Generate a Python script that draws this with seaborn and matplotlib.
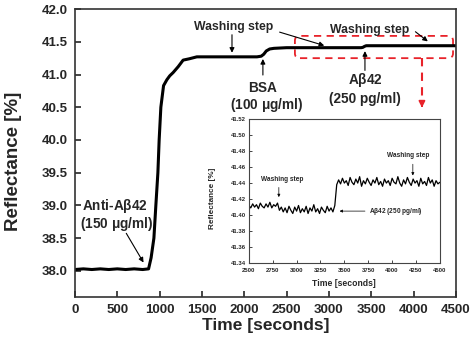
import numpy as np
import matplotlib
matplotlib.use("Agg")
import matplotlib.pyplot as plt
import seaborn as sns
from matplotlib.patches import FancyBboxPatch
from matplotlib.ticker import FormatStrFormatter

# ---- main trace (time [s], reflectance [%]) ----
main_time = [0, 100, 200, 300, 400, 500, 600, 700, 800, 870, 900, 933, 956, 980,
             995, 1015, 1047, 1086, 1120, 1160, 1220, 1278, 1350, 1440, 1600,
             1800, 2000, 2150, 2200, 2230, 2260, 2300, 2350, 2500, 2800, 3000,
             3200, 3380, 3400, 3420, 3440, 3600, 3800, 4000, 4200, 4500]
main_refl = [38.02, 38.03, 38.02, 38.03, 38.02, 38.03, 38.02, 38.03, 38.02, 38.03,
             38.20, 38.50, 39.00, 39.50, 40.00, 40.50, 40.83, 40.92, 40.98, 41.03,
             41.12, 41.22, 41.24, 41.27, 41.27, 41.27, 41.27, 41.27, 41.28, 41.31,
             41.36, 41.39, 41.40, 41.41, 41.41, 41.41, 41.41, 41.41, 41.415, 41.43,
             41.44, 41.44, 41.44, 41.44, 41.44, 41.44]

# ---- inset trace (zoom of 2500-4500 s) ----
inset_time = list(range(2500, 4501, 20))
inset_refl = [
    41.412, 41.409, 41.414, 41.410, 41.413, 41.408, 41.415, 41.411, 41.409, 41.414,
    41.410, 41.416, 41.409, 41.413, 41.411, 41.415,
    41.406, 41.410, 41.404, 41.409, 41.403, 41.411, 41.406, 41.402, 41.410, 41.405,
    41.412, 41.403, 41.408, 41.404, 41.411, 41.402, 41.409, 41.405, 41.413, 41.404,
    41.408, 41.402, 41.410, 41.406, 41.403, 41.411, 41.405, 41.409, 41.404,
    41.412, 41.438,
    41.444, 41.439, 41.446, 41.440, 41.443, 41.437, 41.447, 41.441, 41.438, 41.445,
    41.440, 41.448, 41.436, 41.443, 41.439, 41.446, 41.441, 41.437, 41.444, 41.440,
    41.447, 41.438, 41.442, 41.436, 41.445, 41.440, 41.443, 41.437, 41.446, 41.441,
    41.439, 41.448, 41.440, 41.436, 41.444, 41.439, 41.447, 41.441, 41.437, 41.445,
    41.440, 41.443, 41.436, 41.446, 41.439, 41.442, 41.437, 41.447, 41.440, 41.444,
    41.436, 41.443, 41.439, 41.441]

main_xticks = [0, 500, 1000, 1500, 2000, 2500, 3000, 3500, 4000, 4500]
main_yticks = [38.0, 38.5, 39.0, 39.5, 40.0, 40.5, 41.0, 41.5, 42.0]
inset_xticks = [2500, 2750, 3000, 3250, 3500, 3750, 4000, 4250, 4500]
inset_yticks = [41.34, 41.36, 41.38, 41.40, 41.42, 41.44, 41.46, 41.48, 41.50, 41.52]

sns.set_style("ticks")
plt.rcParams['font.family'] = ['Liberation Sans', 'DejaVu Sans']
plt.rcParams['font.weight'] = 'bold'
plt.rcParams['mathtext.default'] = 'regular'

fig = plt.figure(figsize=(4.74, 3.49), dpi=100)
ax = fig.add_axes([0.158, 0.149, 0.804, 0.825])

sns.lineplot(x=main_time, y=main_refl, ax=ax, color='black', linewidth=2.2)
ax.set_xlim(0, 4500)
ax.set_ylim(37.6, 42.0)
ax.set_xticks(main_xticks)
ax.set_yticks(main_yticks)
ax.yaxis.set_major_formatter(FormatStrFormatter('%.1f'))
ax.tick_params(direction='in', length=4, width=1.2, labelsize=9.5, pad=5)
for lab in ax.get_xticklabels() + ax.get_yticklabels():
    lab.set_fontweight('bold')
for s in ax.spines.values():
    s.set_linewidth(1.2)
    s.set_color('#333333')
ax.set_xlabel('Time [seconds]', fontsize=12.5, fontweight='bold')
ax.set_ylabel('Reflectance [%]', fontsize=13.5, fontweight='bold')
ax.xaxis.set_label_coords(0.5, -0.073)
ax.yaxis.set_label_coords(-0.139, 0.47)

arrow = dict(arrowstyle='-|>', color='black', lw=0.8, mutation_scale=7)
tk = dict(fontsize=8.8, fontweight='bold', ha='center', va='center')
big = dict(fontsize=9.8, fontweight='bold', ha='center', va='center')

# Washing step 1
ax.text(1878, 41.73, 'Washing step', **tk)
ax.annotate('', xy=(1855, 41.29), xytext=(1855, 41.65), arrowprops=arrow)
ax.annotate('', xy=(2976, 41.43), xytext=(2386, 41.66), arrowprops=arrow)
# Washing step 2
ax.text(3484, 41.68, 'Washing step', **tk)
ax.annotate('', xy=(4193, 41.48), xytext=(3995, 41.68), arrowprops=arrow)
# BSA
ax.annotate('', xy=(2220, 41.28), xytext=(2220, 40.95), arrowprops=arrow)
ax.text(2220, 40.80, 'BSA', **big)
ax.text(2268, 40.54, '(100 $\\mu$g/ml)', **big)
# Abeta42
ax.annotate('', xy=(3425, 41.40), xytext=(3425, 41.02), arrowprops=arrow)
ax.text(3425, 40.91, 'A$\\beta$42', **big)
ax.text(3425, 40.63, '(250 pg/ml)', **big)
# Anti-Abeta42
ax.text(467, 38.99, 'Anti-A$\\beta$42', **big)
ax.text(496, 38.72, '(150 $\\mu$g/ml)', **big)
ax.annotate('', xy=(827, 38.09), xytext=(590, 38.61), arrowprops=arrow)

# red dashed rounded box
box = FancyBboxPatch((2598, 41.25), 4465 - 2598, 0.34,
                     boxstyle="round,pad=0,rounding_size=60", mutation_aspect=0.0012,
                     fill=False, edgecolor='#e8232a', linestyle=(0, (4, 3)), lw=1.3)
ax.add_patch(box)
ax.plot([4098, 4098], [41.25, 40.56], color='#e8232a', lw=1.5, linestyle=(0, (4, 3)))
ax.annotate('', xy=(4098, 40.45), xytext=(4098, 40.58),
            arrowprops=dict(arrowstyle='-|>', color='#e8232a', lw=1.3, mutation_scale=9))

# ---- inset ----
ins = fig.add_axes([0.525, 0.246, 0.403, 0.413])
ins.set_facecolor('white')
sns.lineplot(x=inset_time, y=inset_refl, ax=ins, color='black', linewidth=0.9)
ins.set_xlim(2500, 4500)
ins.set_ylim(41.34, 41.52)
ins.set_xticks(inset_xticks)
ins.set_yticks(inset_yticks)
ins.yaxis.set_major_formatter(FormatStrFormatter('%.2f'))
ins.tick_params(direction='in', length=2.5, width=0.6, labelsize=4.3, pad=2)
ins.tick_params(axis='x', pad=3.5)
for lab in ins.get_xticklabels() + ins.get_yticklabels():
    lab.set_fontweight('bold')
for s in ins.spines.values():
    s.set_linewidth(0.8)
    s.set_color('#444444')
ins.set_xlabel('Time [seconds]', fontsize=6.2, fontweight='bold')
ins.set_ylabel('Reflectance [%]', fontsize=5.9, fontweight='bold')
ins.xaxis.set_label_coords(0.5, -0.11)
ins.yaxis.set_label_coords(-0.173, 0.45)

sa = dict(arrowstyle='-|>', color='black', lw=0.5, mutation_scale=4)
ins.text(2846, 41.445, 'Washing step', fontsize=4.7, fontweight='bold', ha='center', va='center')
ins.annotate('', xy=(2814, 41.419), xytext=(2814, 41.438), arrowprops=sa)
ins.text(4165, 41.474, 'Washing step', fontsize=4.7, fontweight='bold', ha='center', va='center')
ins.annotate('', xy=(4217, 41.446), xytext=(4217, 41.467), arrowprops=sa)
ins.text(3757, 41.405, 'A$\\beta$42 (250 pg/ml)', fontsize=4.7, fontweight='bold', ha='left', va='center')
ins.annotate('', xy=(3421, 41.405), xytext=(3745, 41.405), arrowprops=sa)

fig.savefig('out.png', dpi=100)
